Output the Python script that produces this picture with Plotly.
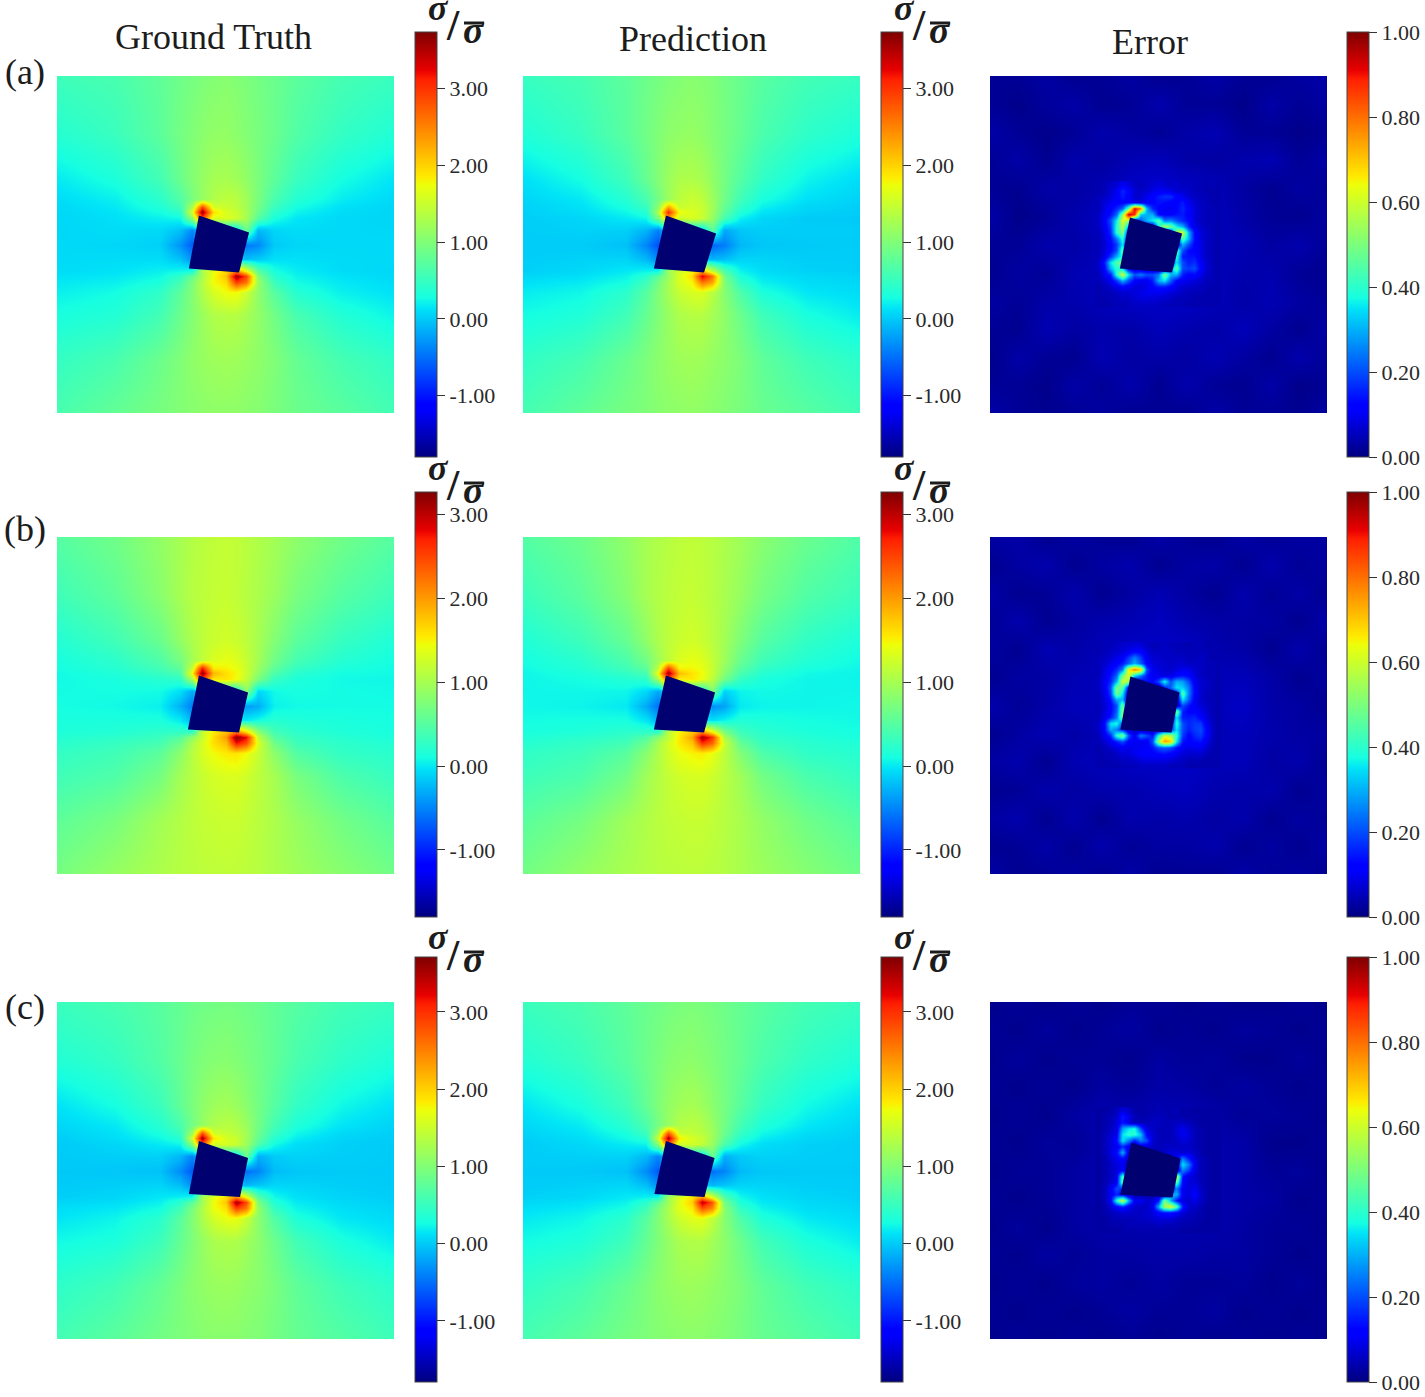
import plotly.graph_objects as go

W, H = 1425, 1397

# Sample positions of the stress field, relative to the panel centre (top to bottom)
FIELD_X = [-168, -110, -65, -45, -33, -23, -12, 0, 10, 20, 32, 48, 70, 115, 168]
FIELD_Y = [-168, -110, -65, -45, -37, -32, -26, -14, 0, 14, 26, 31, 37, 47, 70, 115, 168]
# The error maps: coarse samples over the whole panel, finer ones around the inclusion
ERR_X = [-168, -140, -112, -84, -56, -28, 0, 28, 56, 84, 112, 140, 168]
ERR_Y = [-168, -140, -112, -84, -56, -28, 0, 28, 56, 84, 112, 140, 168]
RIM_X = [-60, -54, -48, -42, -36, -30, -24, -18, -12, -6, 0, 6, 12, 18, 24, 30, 36, 42, 48, 54, 60]
RIM_Y = [-60, -54, -48, -42, -36, -30, -24, -18, -12, -6, 0, 6, 12, 18, 24, 30, 36, 42, 48, 54, 60]

GT_A = [
    [.55, .62, .78, .88, .93, .98, 1.02, 1.05, 1.02, .98, .92, .85, .75, .6, .52],
    [.38, .52, .75, .92, 1.0, 1.07, 1.12, 1.13, 1.08, 1.02, .95, .85, .68, .48, .35],
    [.17, .32, .58, .85, 1.02, 1.14, 1.25, 1.27, 1.22, 1.12, .96, .76, .52, .28, .14],
    [.1, .2, .42, .68, .95, 1.15, 1.32, 1.42, 1.38, 1.22, .95, .62, .38, .18, .08],
    [.08, .16, .34, .55, 1.3, 2.9, 1.6, 1.5, 1.42, 1.22, .9, .52, .28, .12, .06],
    [.07, .14, .28, .42, 1.6, 3.65, 1.95, 1.6, 1.5, 1.27, .85, .42, .22, .1, .06],
    [.07, .12, .2, .25, 1.1, 2.8, 1.6, 1.62, 1.52, 1.25, .72, .3, .15, .08, .06],
    [.07, .1, .08, -.05, -.35, 0, 0, 0, 0, .9, -.1, .06, .1, .08, .07],
    [.08, .07, .03, -.3, -.6, 0, 0, 0, 0, -.45, -.35, .0, .06, .08, .08],
    [.09, .1, .1, -.05, -.3, 0, 0, 0, 0, -.05, .0, .12, .12, .09, .08],
    [.1, .13, .2, .25, .3, 1.3, 1.7, 2.0, 2.5, 1.8, .75, .3, .18, .1, .07],
    [.13, .16, .25, .45, .8, 1.25, 1.75, 2.1, 3.6, 2.9, 1.0, .4, .22, .13, .08],
    [.16, .2, .32, .6, .98, 1.35, 1.75, 1.95, 2.95, 2.6, 1.15, .52, .27, .16, .1],
    [.2, .27, .45, .76, 1.02, 1.32, 1.58, 1.75, 1.78, 1.52, 1.1, .72, .38, .2, .13],
    [.3, .36, .58, .85, 1.02, 1.17, 1.32, 1.36, 1.36, 1.26, 1.12, .9, .62, .36, .22],
    [.48, .62, .86, 1.0, 1.1, 1.15, 1.2, 1.22, 1.2, 1.16, 1.1, 1.0, .82, .6, .46],
    [.62, .8, .95, 1.02, 1.05, 1.08, 1.1, 1.1, 1.1, 1.06, 1.04, .96, .86, .74, .58],
]
PRED_A = [
    [.5, .6, .76, .87, .93, .98, 1.02, 1.05, 1.03, 1.0, .92, .84, .72, .58, .5],
    [.34, .5, .74, .9, 1.0, 1.08, 1.12, 1.14, 1.1, 1.02, .94, .82, .64, .44, .32],
    [.12, .28, .55, .82, 1.02, 1.18, 1.3, 1.32, 1.26, 1.12, .92, .7, .46, .22, .1],
    [.06, .16, .38, .62, .92, 1.18, 1.4, 1.5, 1.42, 1.2, .9, .56, .3, .12, .04],
    [.04, .12, .3, .5, 1.1, 2.3, 1.5, 1.55, 1.48, 1.22, .82, .45, .2, .06, .02],
    [.03, .1, .24, .38, 1.3, 3.05, 1.75, 1.62, 1.5, 1.2, .75, .35, .14, .04, .01],
    [.02, .06, .16, .24, .95, 2.3, 1.5, 1.6, 1.48, 1.15, .6, .2, .06, .0, .0],
    [.02, .04, .03, -.12, -.4, 0, 0, 0, 0, .8, -.18, -.03, .02, .02, .01],
    [.01, .01, -.05, -.38, -.68, 0, 0, 0, 0, -.55, -.42, -.1, -.02, .0, .01],
    [.02, .04, .05, -.1, -.35, 0, 0, 0, 0, -.12, -.06, .05, .05, .02, .02],
    [.03, .08, .16, .22, .25, 1.2, 1.55, 1.8, 2.2, 1.5, .65, .22, .1, .04, .02],
    [.07, .12, .22, .4, .75, 1.15, 1.6, 1.95, 3.3, 2.6, .9, .32, .15, .08, .05],
    [.12, .17, .28, .55, .92, 1.25, 1.6, 1.8, 2.6, 2.3, 1.02, .45, .2, .1, .07],
    [.18, .24, .42, .72, 1.0, 1.25, 1.48, 1.6, 1.62, 1.4, 1.05, .66, .32, .15, .1],
    [.27, .34, .56, .82, 1.0, 1.15, 1.3, 1.36, 1.36, 1.25, 1.1, .86, .56, .3, .18],
    [.46, .6, .84, .98, 1.08, 1.14, 1.2, 1.22, 1.2, 1.14, 1.08, .98, .78, .56, .42],
    [.6, .78, .94, 1.0, 1.05, 1.08, 1.1, 1.12, 1.1, 1.06, 1.02, .95, .84, .72, .56],
]
GT_B = [
    [.5, .66, .88, 1.0, 1.08, 1.12, 1.16, 1.18, 1.16, 1.12, 1.06, .98, .85, .66, .5],
    [.35, .55, .82, 1.0, 1.1, 1.14, 1.18, 1.2, 1.16, 1.1, 1.03, .92, .72, .5, .34],
    [.18, .36, .62, .88, 1.04, 1.14, 1.22, 1.26, 1.22, 1.14, 1.0, .78, .54, .3, .16],
    [.12, .24, .46, .7, .98, 1.16, 1.32, 1.4, 1.34, 1.2, .98, .66, .4, .2, .1],
    [.1, .2, .38, .56, 1.2, 2.7, 1.55, 1.5, 1.42, 1.22, .92, .55, .3, .14, .08],
    [.08, .16, .3, .42, 1.5, 3.2, 1.85, 1.6, 1.48, 1.22, .85, .44, .22, .1, .08],
    [.08, .12, .2, .26, 1.0, 2.5, 1.55, 1.58, 1.45, 1.18, .72, .3, .15, .08, .07],
    [.09, .1, .09, -.05, -.3, 0, 0, 0, 0, .85, -.08, .08, .11, .09, .08],
    [.1, .08, .03, -.28, -.55, 0, 0, 0, 0, -.4, -.3, .04, .08, .09, .09],
    [.12, .13, .13, .0, -.25, 0, 0, 0, 0, .0, .1, .2, .16, .13, .1],
    [.15, .18, .25, .28, .3, 1.2, 1.55, 1.8, 2.2, 1.7, .85, .38, .24, .16, .12],
    [.18, .24, .32, .5, .85, 1.2, 1.6, 2.0, 3.25, 2.8, 1.15, .5, .3, .2, .14],
    [.22, .3, .4, .66, 1.02, 1.3, 1.6, 1.8, 2.75, 2.45, 1.3, .66, .35, .24, .18],
    [.28, .36, .54, .84, 1.1, 1.3, 1.45, 1.55, 1.58, 1.46, 1.2, .84, .48, .28, .22],
    [.36, .46, .7, .98, 1.1, 1.2, 1.28, 1.32, 1.32, 1.26, 1.14, 1.0, .72, .44, .3],
    [.55, .72, .98, 1.08, 1.14, 1.18, 1.2, 1.22, 1.22, 1.18, 1.12, 1.04, .9, .68, .5],
    [.7, .9, 1.04, 1.1, 1.12, 1.14, 1.15, 1.16, 1.15, 1.13, 1.1, 1.04, .96, .82, .66],
]
PRED_B = [
    [.48, .64, .86, 1.0, 1.06, 1.1, 1.14, 1.16, 1.14, 1.1, 1.04, .96, .82, .62, .46],
    [.33, .53, .8, 1.0, 1.08, 1.13, 1.17, 1.19, 1.15, 1.1, 1.02, .9, .7, .47, .32],
    [.16, .34, .6, .86, 1.04, 1.14, 1.22, 1.26, 1.21, 1.12, .98, .75, .5, .27, .14],
    [.1, .22, .44, .68, .96, 1.16, 1.32, 1.4, 1.34, 1.18, .95, .62, .36, .18, .08],
    [.08, .18, .36, .54, 1.15, 2.5, 1.5, 1.48, 1.4, 1.2, .88, .52, .27, .12, .06],
    [.06, .14, .28, .4, 1.45, 3.15, 1.8, 1.58, 1.46, 1.2, .82, .42, .2, .08, .05],
    [.06, .1, .18, .24, 1.0, 2.4, 1.5, 1.55, 1.42, 1.12, .68, .28, .13, .06, .05],
    [.06, .07, .06, -.08, -.33, 0, 0, 0, 0, .8, -.12, .05, .08, .06, .06],
    [.07, .05, .0, -.32, -.6, 0, 0, 0, 0, -.45, -.35, .0, .05, .06, .07],
    [.09, .11, .11, -.03, -.28, 0, 0, 0, 0, -.05, .05, .17, .14, .1, .08],
    [.12, .16, .23, .26, .28, 1.15, 1.5, 1.75, 2.1, 1.55, .75, .35, .22, .14, .1],
    [.16, .22, .3, .48, .82, 1.15, 1.55, 1.95, 3.15, 2.6, 1.05, .45, .27, .18, .12],
    [.2, .28, .38, .64, 1.0, 1.28, 1.55, 1.75, 2.6, 2.3, 1.22, .6, .32, .22, .16],
    [.26, .34, .52, .82, 1.06, 1.26, 1.42, 1.5, 1.54, 1.42, 1.15, .78, .45, .26, .2],
    [.34, .44, .68, .96, 1.08, 1.18, 1.26, 1.3, 1.3, 1.24, 1.12, .96, .68, .42, .28],
    [.53, .7, .96, 1.06, 1.12, 1.16, 1.18, 1.2, 1.2, 1.16, 1.1, 1.02, .88, .66, .48],
    [.68, .88, 1.02, 1.08, 1.1, 1.12, 1.13, 1.14, 1.13, 1.11, 1.08, 1.02, .94, .8, .64],
]
GT_C = [
    [.52, .6, .72, .8, .85, .88, .9, .92, .9, .88, .84, .78, .7, .57, .5],
    [.35, .48, .68, .82, .92, .98, 1.02, 1.04, 1.0, .95, .88, .78, .62, .44, .32],
    [.13, .28, .52, .78, .95, 1.08, 1.18, 1.22, 1.16, 1.05, .9, .7, .47, .24, .12],
    [.06, .16, .38, .62, .9, 1.12, 1.3, 1.36, 1.32, 1.16, .9, .58, .33, .14, .04],
    [.03, .12, .3, .5, 1.2, 2.8, 1.55, 1.45, 1.38, 1.22, .85, .48, .24, .08, .02],
    [.01, .1, .24, .38, 1.55, 3.55, 1.9, 1.58, 1.48, 1.22, .8, .38, .18, .05, .01],
    [.0, .06, .16, .22, 1.05, 2.75, 1.55, 1.58, 1.48, 1.2, .66, .26, .1, .03, .0],
    [.0, .02, .03, -.1, -.38, 0, 0, 0, 0, .85, -.15, .0, .04, .02, .0],
    [-.01, -.02, -.05, -.34, -.62, 0, 0, 0, 0, -.5, -.38, -.08, -.02, .0, .0],
    [.0, .02, .05, -.08, -.32, 0, 0, 0, 0, -.1, -.03, .06, .05, .02, .0],
    [.02, .06, .15, .2, .25, 1.25, 1.65, 1.95, 2.45, 1.75, .7, .25, .12, .05, .01],
    [.06, .1, .2, .4, .75, 1.2, 1.7, 2.05, 3.55, 2.85, .95, .35, .17, .08, .03],
    [.1, .15, .27, .55, .94, 1.3, 1.7, 1.9, 2.9, 2.55, 1.1, .47, .22, .11, .05],
    [.14, .22, .4, .72, 1.0, 1.28, 1.54, 1.7, 1.72, 1.48, 1.07, .67, .33, .15, .08],
    [.25, .31, .53, .8, .97, 1.12, 1.27, 1.3, 1.3, 1.2, 1.07, .85, .57, .31, .17],
    [.43, .57, .8, .95, 1.05, 1.1, 1.15, 1.17, 1.15, 1.1, 1.05, .95, .77, .55, .41],
    [.58, .74, .9, .97, 1.0, 1.03, 1.05, 1.05, 1.05, 1.01, .99, .91, .81, .69, .54],
]
PRED_C = [
    [.52, .62, .76, .84, .88, .92, .95, .97, .95, .92, .87, .8, .72, .58, .5],
    [.36, .5, .72, .86, .95, 1.02, 1.06, 1.08, 1.03, .98, .9, .8, .64, .45, .33],
    [.14, .3, .55, .8, .98, 1.11, 1.2, 1.25, 1.18, 1.06, .92, .72, .48, .25, .12],
    [.07, .17, .4, .64, .92, 1.14, 1.32, 1.38, 1.32, 1.16, .9, .58, .33, .15, .05],
    [.04, .13, .3, .52, 1.2, 2.75, 1.5, 1.44, 1.36, 1.2, .85, .48, .24, .09, .03],
    [.02, .1, .25, .38, 1.5, 3.5, 1.85, 1.56, 1.46, 1.2, .78, .38, .18, .06, .02],
    [.01, .07, .17, .22, 1.05, 2.7, 1.52, 1.55, 1.44, 1.15, .64, .25, .1, .03, .01],
    [.01, .03, .04, -.1, -.38, 0, 0, 0, 0, .85, -.15, -.01, .04, .02, .01],
    [.0, -.01, -.05, -.34, -.62, 0, 0, 0, 0, -.5, -.38, -.09, -.02, .0, .0],
    [.01, .03, .06, -.08, -.32, 0, 0, 0, 0, -.1, -.03, .05, .05, .02, .01],
    [.03, .07, .16, .2, .25, 1.22, 1.6, 1.9, 2.35, 1.65, .66, .24, .12, .05, .02],
    [.07, .12, .21, .4, .75, 1.18, 1.65, 2.0, 3.45, 2.75, .92, .33, .16, .08, .04],
    [.11, .16, .28, .55, .94, 1.28, 1.65, 1.85, 2.8, 2.45, 1.06, .46, .22, .1, .06],
    [.16, .23, .41, .72, 1.0, 1.26, 1.5, 1.65, 1.68, 1.44, 1.05, .66, .33, .16, .09],
    [.26, .33, .54, .8, .98, 1.12, 1.27, 1.32, 1.32, 1.22, 1.07, .85, .57, .31, .18],
    [.45, .59, .82, .96, 1.06, 1.11, 1.16, 1.18, 1.16, 1.11, 1.05, .96, .78, .56, .42],
    [.6, .76, .92, .98, 1.02, 1.04, 1.06, 1.07, 1.06, 1.03, 1.0, .92, .82, .7, .55],
]
ERR_A_BG = [
    [.02, .02, .03, .015, .02, .03, .015, .02, .035, .02, .015, .03, .035],
    [.02, .01, .025, .035, .015, .02, .04, .02, .02, .01, .035, .02, .03],
    [.035, .02, .01, .02, .04, .03, .02, .035, .045, .02, .02, .01, .02],
    [.02, .035, .015, .04, .03, .045, .05, .035, .03, .04, .045, .02, .035],
    [.02, .015, .035, .03, .045, .06, .07, .06, .05, .03, .015, .03, .02],
    [.035, .01, .02, .04, .055, .06, .06, .06, .055, .035, .02, .015, .03],
    [.02, .02, .04, .035, .05, .05, .05, .05, .05, .045, .03, .04, .02],
    [.015, .03, .02, .045, .05, .05, .05, .05, .05, .04, .04, .02, .015],
    [.03, .02, .035, .04, .05, .06, .06, .06, .05, .035, .045, .03, .02],
    [.02, .015, .045, .03, .04, .035, .05, .04, .035, .05, .03, .015, .035],
    [.01, .035, .02, .015, .045, .03, .035, .03, .045, .03, .015, .04, .02],
    [.02, .02, .01, .035, .02, .04, .015, .04, .02, .015, .035, .01, .02],
    [.035, .02, .015, .02, .03, .015, .02, .015, .035, .02, .02, .015, .03],
]
ERR_B_BG = [
    [.03, .035, .015, .03, .02, .015, .035, .02, .015, .035, .02, .03, .03],
    [.015, .03, .04, .015, .03, .04, .015, .03, .035, .015, .04, .02, .03],
    [.035, .015, .02, .04, .015, .03, .045, .03, .015, .04, .02, .035, .015],
    [.02, .04, .015, .03, .04, .045, .055, .04, .035, .03, .03, .015, .04],
    [.03, .015, .045, .035, .05, .06, .06, .06, .04, .035, .015, .04, .015],
    [.015, .03, .03, .045, .05, .06, .06, .06, .05, .05, .035, .015, .03],
    [.04, .02, .035, .05, .05, .05, .05, .05, .05, .06, .035, .03, .015],
    [.015, .03, .045, .035, .05, .05, .05, .05, .05, .05, .04, .03, .03],
    [.03, .04, .015, .045, .05, .06, .06, .06, .05, .05, .03, .04, .015],
    [.015, .02, .04, .03, .04, .04, .05, .055, .04, .035, .04, .015, .03],
    [.03, .04, .015, .04, .015, .04, .035, .04, .03, .04, .015, .03, .02],
    [.015, .02, .035, .015, .04, .02, .03, .03, .04, .015, .03, .015, .035],
    [.035, .015, .02, .03, .015, .035, .015, .02, .015, .035, .02, .03, .015],
]
ERR_C_BG = [
    [.012, .02, .012, .02, .012, .02, .02, .012, .02, .012, .012, .02, .012],
    [.02, .012, .025, .012, .02, .03, .012, .02, .012, .025, .02, .012, .02],
    [.012, .025, .012, .02, .02, .012, .03, .02, .025, .012, .012, .025, .012],
    [.02, .012, .02, .012, .03, .02, .035, .03, .02, .03, .02, .012, .02],
    [.012, .02, .012, .03, .04, .04, .045, .045, .035, .02, .025, .02, .012],
    [.02, .012, .025, .02, .04, .04, .04, .04, .04, .035, .012, .012, .02],
    [.012, .02, .02, .03, .04, .04, .04, .04, .04, .035, .02, .025, .012],
    [.02, .012, .02, .03, .04, .04, .04, .04, .04, .035, .03, .012, .02],
    [.012, .025, .012, .03, .035, .04, .04, .04, .04, .03, .02, .02, .012],
    [.02, .012, .03, .02, .03, .03, .035, .035, .03, .03, .02, .012, .02],
    [.012, .02, .012, .025, .03, .02, .03, .02, .02, .025, .012, .025, .012],
    [.02, .012, .02, .012, .02, .03, .02, .02, .03, .012, .02, .012, .02],
    [.012, .02, .012, .02, .012, .02, .012, .02, .012, .02, .012, .02, .012],
]
ERR_A_RIM = [
    [.04, .05, .06, .07, .1, .08, .06, .05, .06, .07, .08, .07, .06, .07, .05, .06, .05, .05, .04, .05, .04],
    [.04, .05, .07, .1, .16, .12, .07, .06, .07, .09, .1, .1, .09, .07, .07, .06, .05, .05, .04, .04, .04],
    [.05, .06, .08, .1, .15, .11, .07, .07, .1, .12, .15, .17, .17, .12, .1, .07, .06, .05, .05, .04, .04],
    [.05, .08, .1, .12, .12, .12, .1, .08, .11, .12, .14, .13, .11, .12, .15, .1, .07, .06, .05, .04, .04],
    [.05, .09, .12, .16, .22, .48, .92, .8, .3, .16, .12, .1, .1, .12, .16, .12, .08, .06, .05, .05, .04],
    [.06, .1, .14, .22, .52, .95, .88, .32, .3, .3, .13, .12, .12, .14, .15, .11, .08, .06, .05, .05, .04],
    [.06, .11, .2, .36, .62, .55, .04, .2, .3, .36, .45, .24, .26, .2, .16, .13, .08, .06, .05, .05, .04],
    [.06, .1, .18, .4, .56, .3, .04, .04, .04, .04, .38, .55, .5, .36, .3, .16, .09, .07, .05, .05, .04],
    [.05, .09, .16, .4, .5, .1, .04, .04, .04, .04, .04, .04, .04, .6, .6, .3, .13, .08, .06, .05, .04],
    [.05, .08, .13, .25, .4, .08, .04, .04, .04, .04, .04, .04, .04, .2, .45, .3, .13, .08, .06, .05, .04],
    [.05, .07, .12, .18, .35, .05, .04, .04, .04, .04, .04, .04, .04, .05, .3, .2, .12, .09, .06, .05, .04],
    [.05, .08, .12, .2, .45, .04, .04, .04, .04, .04, .04, .04, .04, .45, .2, .13, .12, .09, .06, .05, .04],
    [.05, .09, .18, .3, .4, .04, .04, .04, .04, .04, .04, .04, .1, .4, .15, .14, .14, .09, .06, .05, .04],
    [.06, .15, .35, .45, .5, .04, .04, .04, .04, .04, .04, .04, .15, .35, .2, .15, .17, .11, .07, .05, .04],
    [.06, .12, .3, .4, .35, .1, .06, .04, .04, .04, .04, .05, .3, .45, .2, .18, .2, .12, .07, .05, .04],
    [.05, .1, .15, .4, .6, .35, .2, .25, .2, .2, .25, .5, .3, .3, .15, .12, .13, .09, .06, .05, .04],
    [.05, .07, .1, .18, .3, .2, .12, .1, .1, .15, .3, .35, .22, .12, .1, .09, .08, .07, .05, .05, .04],
    [.04, .05, .07, .09, .12, .1, .08, .08, .09, .12, .15, .15, .12, .09, .07, .07, .06, .05, .05, .04, .04],
    [.04, .05, .05, .06, .07, .07, .08, .09, .1, .1, .1, .09, .08, .07, .06, .05, .05, .05, .04, .04, .04],
    [.04, .04, .05, .05, .06, .06, .07, .08, .08, .08, .07, .07, .06, .05, .05, .05, .04, .04, .04, .04, .04],
    [.04, .04, .04, .05, .05, .05, .06, .06, .06, .06, .06, .05, .05, .05, .05, .04, .04, .04, .04, .04, .04],
]
ERR_B_RIM = [
    [.04, .05, .05, .06, .07, .07, .08, .08, .06, .05, .05, .06, .05, .05, .05, .04, .05, .05, .04, .04, .04],
    [.04, .05, .06, .07, .08, .1, .12, .12, .08, .06, .06, .06, .06, .05, .05, .05, .05, .05, .05, .04, .04],
    [.05, .06, .07, .09, .11, .18, .25, .18, .1, .07, .07, .06, .06, .06, .06, .05, .05, .06, .05, .04, .04],
    [.05, .07, .09, .12, .15, .22, .3, .22, .12, .08, .07, .07, .06, .07, .07, .06, .06, .06, .05, .05, .04],
    [.05, .08, .12, .16, .25, .65, .78, .7, .2, .1, .08, .07, .07, .08, .1, .09, .07, .06, .05, .05, .04],
    [.05, .09, .14, .22, .5, .62, .35, .25, .15, .1, .09, .08, .09, .12, .14, .12, .08, .06, .05, .05, .04],
    [.06, .1, .16, .3, .6, .55, .04, .1, .14, .12, .2, .38, .2, .3, .28, .2, .1, .07, .06, .05, .04],
    [.06, .1, .2, .5, .45, .1, .04, .04, .04, .04, .04, .15, .22, .35, .33, .25, .11, .07, .06, .05, .04],
    [.05, .09, .18, .5, .35, .04, .04, .04, .04, .04, .04, .04, .04, .12, .45, .25, .12, .07, .05, .05, .04],
    [.05, .08, .14, .3, .3, .04, .04, .04, .04, .04, .04, .04, .04, .04, .35, .22, .1, .07, .05, .05, .04],
    [.05, .07, .12, .2, .48, .04, .04, .04, .04, .04, .04, .04, .04, .04, .2, .14, .1, .08, .06, .05, .04],
    [.05, .08, .12, .22, .5, .04, .04, .04, .04, .04, .04, .04, .04, .5, .15, .12, .12, .1, .07, .05, .04],
    [.05, .09, .15, .25, .5, .04, .04, .04, .04, .04, .04, .04, .04, .35, .15, .15, .16, .12, .08, .05, .04],
    [.06, .13, .35, .38, .2, .04, .04, .04, .04, .04, .04, .04, .1, .4, .2, .16, .18, .18, .1, .06, .04],
    [.06, .12, .3, .25, .15, .06, .04, .04, .04, .04, .04, .05, .15, .35, .2, .15, .18, .2, .12, .06, .04],
    [.05, .1, .16, .4, .5, .2, .1, .25, .2, .14, .4, .6, .55, .4, .18, .12, .16, .18, .12, .06, .04],
    [.05, .07, .1, .15, .2, .12, .1, .1, .1, .2, .55, .75, .7, .35, .14, .12, .13, .14, .09, .05, .04],
    [.04, .05, .07, .09, .1, .09, .1, .1, .11, .14, .2, .22, .2, .14, .1, .09, .1, .1, .07, .05, .04],
    [.04, .05, .05, .06, .08, .08, .1, .11, .12, .12, .13, .14, .12, .1, .08, .07, .07, .07, .05, .04, .04],
    [.04, .04, .05, .05, .06, .06, .07, .08, .09, .09, .09, .09, .08, .07, .06, .05, .05, .05, .04, .04, .04],
    [.04, .04, .04, .04, .05, .05, .05, .06, .06, .06, .06, .06, .05, .05, .05, .04, .04, .04, .04, .04, .04],
]
ERR_C_RIM = [
    [.03, .03, .04, .05, .08, .06, .04, .03, .04, .04, .05, .04, .04, .05, .03, .04, .03, .03, .03, .03, .03],
    [.03, .04, .05, .06, .15, .09, .05, .04, .04, .05, .05, .05, .04, .04, .04, .03, .04, .03, .03, .03, .03],
    [.03, .04, .05, .08, .14, .08, .05, .05, .05, .06, .06, .05, .05, .06, .06, .05, .04, .03, .03, .03, .03],
    [.03, .04, .06, .08, .28, .35, .38, .2, .08, .06, .05, .05, .05, .07, .1, .07, .05, .04, .03, .03, .03],
    [.03, .05, .07, .1, .35, .4, .4, .32, .12, .07, .05, .05, .05, .07, .1, .08, .05, .04, .03, .03, .03],
    [.03, .05, .08, .12, .35, .25, .15, .25, .2, .07, .05, .05, .05, .06, .08, .07, .05, .04, .03, .03, .03],
    [.03, .05, .08, .1, .16, .1, .04, .07, .08, .06, .05, .06, .06, .06, .06, .06, .05, .04, .03, .03, .03],
    [.03, .05, .08, .12, .3, .08, .04, .04, .04, .04, .04, .06, .08, .08, .07, .08, .06, .04, .03, .03, .03],
    [.03, .04, .07, .1, .12, .06, .04, .04, .04, .04, .04, .04, .04, .1, .25, .15, .08, .05, .04, .03, .03],
    [.03, .04, .06, .08, .1, .05, .04, .04, .04, .04, .04, .04, .04, .06, .35, .25, .1, .05, .04, .03, .03],
    [.03, .04, .06, .08, .12, .05, .04, .04, .04, .04, .04, .04, .04, .06, .25, .18, .08, .05, .04, .03, .03],
    [.03, .04, .06, .08, .45, .04, .04, .04, .04, .04, .04, .04, .04, .6, .14, .08, .07, .05, .04, .03, .03],
    [.03, .04, .07, .1, .45, .04, .04, .04, .04, .04, .04, .04, .04, .45, .12, .08, .08, .05, .04, .03, .03],
    [.03, .05, .1, .2, .16, .04, .04, .04, .04, .04, .04, .04, .1, .25, .1, .08, .1, .06, .04, .03, .03],
    [.03, .05, .1, .16, .1, .05, .04, .04, .04, .04, .04, .05, .3, .3, .1, .08, .12, .07, .04, .03, .03],
    [.03, .05, .1, .4, .6, .3, .1, .1, .07, .08, .14, .5, .3, .14, .08, .07, .09, .06, .04, .03, .03],
    [.03, .04, .07, .12, .16, .1, .07, .06, .06, .1, .3, .55, .62, .45, .15, .07, .06, .05, .03, .03, .03],
    [.03, .04, .05, .06, .07, .07, .06, .06, .07, .08, .12, .14, .14, .12, .07, .06, .05, .04, .03, .03, .03],
    [.03, .03, .04, .05, .05, .05, .05, .06, .06, .07, .08, .08, .08, .06, .05, .05, .04, .04, .03, .03, .03],
    [.03, .03, .04, .04, .04, .05, .05, .05, .05, .05, .06, .05, .05, .05, .04, .04, .04, .03, .03, .03, .03],
    [.03, .03, .03, .03, .04, .04, .04, .04, .04, .04, .04, .04, .04, .04, .03, .03, .03, .03, .03, .03, .03],
]

# Corners of the inclusion in each panel, relative to the panel centre
HOLE_X = [[-26.5, 23.5, 13.5, -36.5], [-25.5, 24.5, 12.5, -37.5], [-28.5, 23.5, 13.5, -38.5],
          [-26.5, 22.5, 13.5, -37.5], [-25.5, 23.5, 12.5, -37.5], [-28, 21, 13, -38],
          [-26.5, 22.5, 14.5, -36.5], [-25.5, 23, 13, -37], [-27, 22, 14, -38]]
HOLE_Y = [[-29, -12, 28, 24], [-29, -11, 28, 24], [-27, -11, 28, 24],
          [-30, -13, 27, 24], [-30, -13, 27, 24], [-29, -13, 27, 24],
          [-29.5, -12.5, 26.5, 23.5], [-29.5, -12.5, 26.5, 23.5], [-28, -12, 27, 24]]

COLUMN_TITLES = ["Ground Truth", "Prediction", "Error"]
ROW_LABELS = ["(a)", "(b)", "(c)"]
STRESS_TICKS = [-1, 0, 1, 2, 3]
STRESS_TICK_TEXT = ["-1.00", "0.00", "1.00", "2.00", "3.00"]
ERROR_TICKS = [0, .2, .4, .6, .8, 1]
ERROR_TICK_TEXT = ["0.00", "0.20", "0.40", "0.60", "0.80", "1.00"]
STRESS_RANGE = [(-1.8, 3.74), (-1.8, 3.27), (-1.79, 3.71)]

# Matplotlib-style jet
JET = [
    [0, "rgb(0,0,127)"], [.11, "rgb(0,0,255)"], [.125, "rgb(0,0,255)"], [.35, "rgb(0,228,247)"],
    [.375, "rgb(22,255,225)"], [.64, "rgb(237,255,10)"], [.66, "rgb(255,234,0)"],
    [.89, "rgb(255,30,0)"], [.91, "rgb(232,0,0)"], [1, "rgb(127,0,0)"],
]

PANEL_LEFT = [57, 523, 990]
PANEL_TOP = [76, 537, 1002]
PANEL_SIZE = 337
BAR_LEFT = [415, 881, 1347]
BAR_TOP = [32, 492, 957]
BAR_LEN = 425
BAR_W = 22
SYMBOL_SHIFT = [0, 0, 4]
SERIF = "Liberation Serif"

fig = go.Figure()
fields = [[GT_A, PRED_A], [GT_B, PRED_B], [GT_C, PRED_C]]
err_bg = [ERR_A_BG, ERR_B_BG, ERR_C_BG]
err_rim = [ERR_A_RIM, ERR_B_RIM, ERR_C_RIM]
tick_font = dict(family=SERIF, size=22, color="#2a2a2a")
layout = {}
annotations = []
shapes = []

for r in range(3):
    for c in range(3):
        idx = r * 3 + c + 1
        suffix = "" if idx == 1 else str(idx)
        axes = dict(xaxis=f"x{suffix}", yaxis=f"y{suffix}")
        layout[f"xaxis{suffix}"] = dict(
            domain=[PANEL_LEFT[c] / W, (PANEL_LEFT[c] + PANEL_SIZE) / W],
            range=[-168, 168], visible=False, anchor=f"y{suffix}", fixedrange=True)
        layout[f"yaxis{suffix}"] = dict(
            domain=[1 - (PANEL_TOP[r] + PANEL_SIZE) / H, 1 - PANEL_TOP[r] / H],
            range=[168, -168], visible=False, anchor=f"x{suffix}", fixedrange=True)

        bar = dict(
            x=BAR_LEFT[c] / W, xanchor="left", xpad=0, ypad=0,
            y=1 - BAR_TOP[r] / H, yanchor="top",
            lenmode="pixels", len=BAR_LEN, thicknessmode="pixels", thickness=BAR_W,
            outlinewidth=1, outlinecolor="#444", borderwidth=0,
            ticks="outside", ticklen=8, tickwidth=1, tickcolor="#333", tickfont=tick_font,
        )
        if c < 2:
            lo, hi = STRESS_RANGE[r]
            bar.update(tickvals=STRESS_TICKS, ticktext=STRESS_TICK_TEXT)
            fig.add_trace(go.Heatmap(
                x=FIELD_X, y=FIELD_Y, z=fields[r][c], zmin=lo, zmax=hi, colorscale=JET,
                zsmooth="best", colorbar=bar, **axes))
        else:
            bar.update(tickvals=ERROR_TICKS, ticktext=ERROR_TICK_TEXT)
            fig.add_trace(go.Heatmap(
                x=ERR_X, y=ERR_Y, z=err_bg[r], zmin=0, zmax=1, colorscale=JET,
                zsmooth="best", colorbar=bar, **axes))
            fig.add_trace(go.Heatmap(
                x=RIM_X, y=RIM_Y, z=err_rim[r], zmin=0, zmax=1, colorscale=JET,
                zsmooth="best", showscale=False, **axes))
        fig.add_trace(go.Scatter(
            x=HOLE_X[idx - 1] + HOLE_X[idx - 1][:1], y=HOLE_Y[idx - 1] + HOLE_Y[idx - 1][:1],
            mode="lines", fill="toself", fillcolor="rgb(0,0,112)", line=dict(width=0),
            showlegend=False, **axes))


def label(x, y, text, size):
    annotations.append(dict(
        x=x / W, y=1 - y / H, xref="paper", yref="paper", text=text, showarrow=False,
        xanchor="center", yanchor="middle",
        font=dict(family=SERIF, size=size, color="#1c1c1c")))


for text, x, y in zip(COLUMN_TITLES, [213, 693, 1150], [37, 39, 42]):
    label(x, y, text, 36)
for text, y in zip(ROW_LABELS, [72, 529, 1007]):
    label(25, y, text, 36)
for bar_left in BAR_LEFT[:2]:
    for top, shift in zip(BAR_TOP, SYMBOL_SHIFT):
        top += shift
        label(bar_left + 23, top - 24, "<b><i>σ</i></b>", 36)
        label(bar_left + 38, top - 6, "<b>/</b>", 44)
        label(bar_left + 59, top - 2, "<b><i>σ</i></b>", 38)
        shapes.append(dict(
            type="line", xref="paper", yref="paper", line=dict(color="#1c1c1c", width=3),
            x0=(bar_left + 49) / W, x1=(bar_left + 69) / W,
            y0=1 - (top - 9) / H, y1=1 - (top - 9) / H))

fig.update_layout(
    width=W, height=H, margin=dict(l=0, r=0, t=0, b=0, pad=0), paper_bgcolor="white",
    plot_bgcolor="white", annotations=annotations, shapes=shapes, showlegend=False, **layout)
fig.write_html("out.html", config={"displayModeBar": False})
